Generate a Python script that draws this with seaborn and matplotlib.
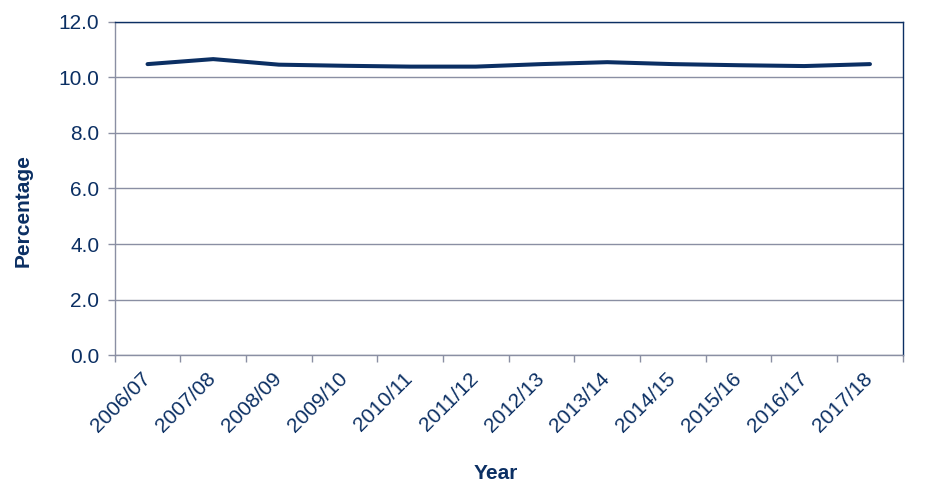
import matplotlib
matplotlib.use("Agg")
import matplotlib.pyplot as plt
import matplotlib.transforms as mtransforms
import seaborn as sns
import pandas as pd

# Chart data
years = ["2006/07", "2007/08", "2008/09", "2009/10", "2010/11", "2011/12",
         "2012/13", "2013/14", "2014/15", "2015/16", "2016/17", "2017/18"]
percentage = [10.48, 10.66, 10.46, 10.42, 10.39, 10.39,
              10.48, 10.55, 10.48, 10.44, 10.41, 10.48]
y_ticks = [0, 2, 4, 6, 8, 10, 12]

navy = "#0b2f63"
grey = "#8a8fa3"

sns.set_theme(style="white")
plt.rcParams["font.family"] = ["Liberation Sans", "DejaVu Sans"]

df = pd.DataFrame({"pos": range(len(years)), "Percentage": percentage})

fig = plt.figure(figsize=(9.25, 4.98), dpi=100)
ax = fig.add_axes([0.124, 0.287, 0.852, 0.669])

sns.lineplot(data=df, x="pos", y="Percentage", ax=ax, color=navy, linewidth=2.9)

ax.set_xlim(-0.5, len(years) - 0.5)
ax.set_ylim(0, 12)
ax.set_yticks(y_ticks)
ax.set_yticklabels([f"{v:.1f}" for v in y_ticks], fontsize=15, color=navy)
ax.yaxis.grid(True, color=grey, linewidth=1)
ax.xaxis.grid(False)

ax.set_xticks(range(len(years)))
ax.set_xticklabels(years, rotation=45, ha="right", va="top",
                   rotation_mode="anchor", fontsize=15, color=navy)
ax.set_xticks([i - 0.5 for i in range(len(years) + 1)], minor=True)
ax.tick_params(axis="x", which="major", length=0, pad=10)
ax.tick_params(axis="x", which="minor", length=5, color=grey, width=1, bottom=True)
ax.tick_params(axis="y", length=5, color=grey, width=1, left=True, pad=6)

# nudge the rotated year labels left so their ends sit under the points
shift = mtransforms.ScaledTranslation(-7 / 100, 0, fig.dpi_scale_trans)
for lbl in ax.get_xticklabels():
    lbl.set_transform(lbl.get_transform() + shift)

for side in ["left", "bottom"]:
    ax.spines[side].set_color(grey)
    ax.spines[side].set_linewidth(1)
for side in ["top", "right"]:
    ax.spines[side].set_color(navy)
    ax.spines[side].set_linewidth(1)

ax.set_xlabel("Year", fontsize=15, fontweight="bold", color=navy)
ax.set_ylabel("Percentage", fontsize=15, fontweight="bold", color=navy)
ax.xaxis.set_label_coords(0.4835, -0.328)
ax.yaxis.set_label_coords(-0.104, 0.435)

fig.savefig("out.png", dpi=100)
